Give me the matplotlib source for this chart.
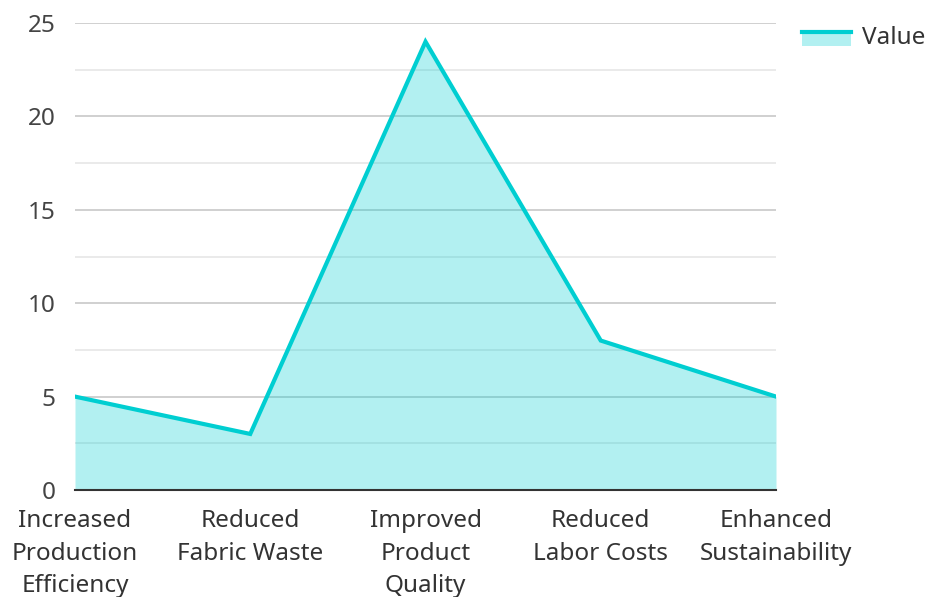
import matplotlib
matplotlib.use("Agg")
import matplotlib.pyplot as plt
from matplotlib.lines import Line2D
from matplotlib.patches import Rectangle
from matplotlib.ticker import MultipleLocator
from matplotlib.legend_handler import HandlerBase

plt.rcParams['font.family'] = ['Noto Sans', 'DejaVu Sans']

categories = ["Increased\nProduction\nEfficiency", "Reduced\nFabric Waste",
              "Improved\nProduct\nQuality", "Reduced\nLabor Costs",
              "Enhanced\nSustainability"]
values = [5, 3, 24, 8, 5]
series_name = "Value"

color = "#00CED1"
fs = 17.5
fig = plt.figure(figsize=(9.25, 5.97), dpi=100)
ax = fig.add_axes([75/925, 1-490/597, (776-75)/925, (490-23)/597])

x = list(range(len(categories)))
ax.fill_between(x, values, 0, color=color, alpha=0.3, linewidth=0, zorder=2)
ax.plot(x, values, color=color, linewidth=3, zorder=3, solid_joinstyle='miter')

ax.set_xlim(0, len(categories)-1)
ax.set_ylim(0, 25)
ax.yaxis.set_major_locator(MultipleLocator(5))
ax.yaxis.set_minor_locator(MultipleLocator(2.5))
ax.set_axisbelow(True)
ax.grid(axis='y', which='major', color='#c8c8c8', linewidth=1.2)
ax.grid(axis='y', which='minor', color='#e6e6e6', linewidth=1.2)
ax.set_xticks(x)
ax.set_xticklabels(categories, fontsize=fs, color='#333333', linespacing=1.45)
ax.tick_params(axis='y', labelsize=fs, labelcolor='#444444', length=0, pad=14, which='both')
ax.tick_params(axis='x', length=0, pad=14)
for s in ['top', 'right', 'left']:
    ax.spines[s].set_visible(False)
ax.spines['bottom'].set_color('#333333')
ax.spines['bottom'].set_linewidth(1.5)
ax.spines['bottom'].set_zorder(4)


class H(HandlerBase):
    def create_artists(self, legend, orig, xd, yd, w, h, fsz, trans):
        r = Rectangle((xd, yd), w, h, facecolor=color, alpha=0.3, edgecolor='none', transform=trans)
        l = Line2D([xd, xd + w], [yd + h, yd + h], color=color, linewidth=3, transform=trans)
        return [r, l]


handle = Rectangle((0, 0), 1, 1)
fig.legend([handle], [series_name], handler_map={Rectangle: H()}, loc='upper left',
           bbox_to_anchor=(802/925, 1-26/597), frameon=False, fontsize=fs,
           borderpad=0, borderaxespad=0,
           handlelength=2.0, handleheight=0.5, handletextpad=0.45, labelcolor='#333333')

fig.savefig("out.png", dpi=100)
